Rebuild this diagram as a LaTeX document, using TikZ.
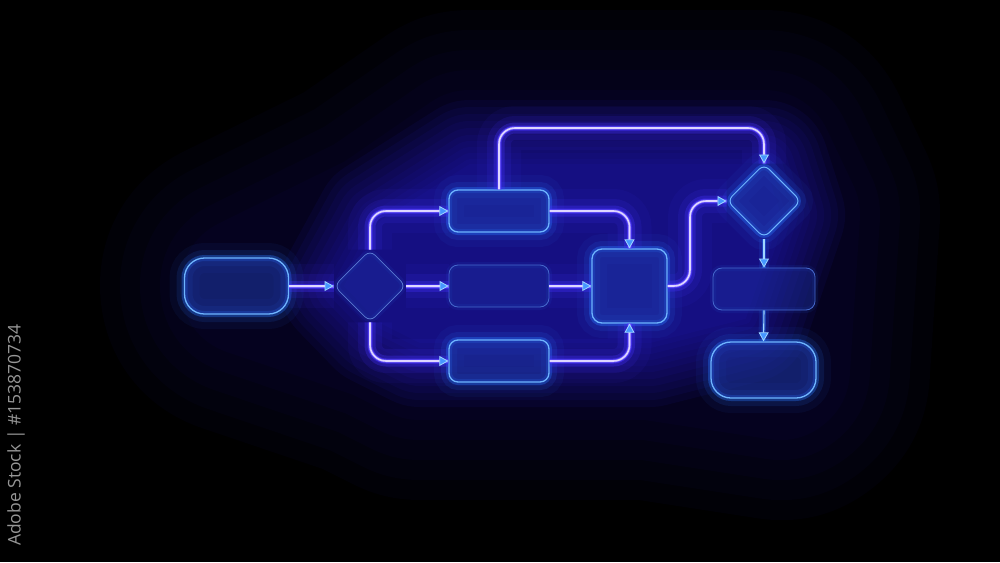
\documentclass[tikz,border=0pt]{standalone}
\usepackage{fontspec}
\setsansfont{Open Sans}
\usetikzlibrary{arrows.meta,shapes.geometric}
\definecolor{haze}{RGB}{40,30,205}
\definecolor{wirecore}{RGB}{222,214,255}
\definecolor{wiremid}{RGB}{120,100,255}
\definecolor{wireglow}{RGB}{70,50,255}
\definecolor{boxline}{RGB}{110,180,255}
\definecolor{boxglow}{RGB}{40,120,255}
\definecolor{boxfill}{RGB}{30,55,170}
\definecolor{dimline}{RGB}{70,105,205}
\definecolor{arrowfill}{RGB}{70,150,255}
\definecolor{arrowline}{RGB}{160,215,255}
\definecolor{idgray}{RGB}{150,150,150}
\begin{document}
\begin{tikzpicture}[x=1pt,y=-1pt,
  boxbase/.style={inner sep=0pt, fill=boxfill, fill opacity=0.55},
  brightbox/.style={boxbase, draw=boxline, line width=1.3pt,
    preaction={draw=boxglow, line width=30pt, draw opacity=0.06},
    preaction={draw=boxglow, line width=16pt, draw opacity=0.12},
    preaction={draw=boxglow, line width=6pt, draw opacity=0.35}},
  dimbox/.style={boxbase, fill opacity=0.35, draw=dimline, line width=0.8pt,
    preaction={draw=boxglow, line width=6pt, draw opacity=0.08}},
  pill/.style={brightbox, rounded corners=20pt, minimum width=104pt, minimum height=56pt},
  rbox/.style={rounded corners=9pt, minimum width=100pt, minimum height=42pt},
  gate/.style={diamond, aspect=1, rounded corners=7pt, minimum width=#1, minimum height=#1},
  tip/.style={-{Triangle[length=9pt,width=10pt,fill=arrowfill,color=arrowline,line width=0.8pt]}},
  wire/.style={tip, draw=wirecore, line width=1.6pt, rounded corners=16pt,
    preaction={-, draw=wireglow, line width=44pt, draw opacity=0.06},
    preaction={-, draw=wireglow, line width=24pt, draw opacity=0.12},
    preaction={-, draw=wireglow, line width=11pt, draw opacity=0.3},
    preaction={-, draw=wireglow, line width=5pt, draw opacity=0.6},
    preaction={-, draw=wiremid, line width=3pt, draw opacity=0.9}},
  thinwire/.style={tip, draw=arrowline, line width=1.1pt,
    preaction={-, draw=boxglow, line width=10pt, draw opacity=0.12},
    preaction={-, draw=boxglow, line width=4pt, draw opacity=0.4}},
  hazelayer/.style={draw=haze, fill=haze, line join=round, line width=#1}
]
\fill[black] (0,0) rectangle (1000,562);
\useasboundingbox (0,0) rectangle (1000,562);

% faint wide haze
\foreach \w in {300,260,220,180,140}{
  \begin{scope}[transparency group, opacity=0.035]
  \path[hazelayer=\w pt] (250,286) -- (380,222) -- (470,160) -- (764,160)
    -- (790,215) -- (780,370) -- (650,350) -- (420,350)
    -- (380,330) -- cycle;
  \end{scope}
}
% main haze around the chart
\foreach \w in {130,116,102,88,74,60,48,36,24,12,2}{
  \begin{scope}[transparency group, opacity=0.08]
  \path[hazelayer=\w pt] (345,286) -- (380,222) -- (470,165) -- (764,165)
    -- (780,215) -- (745,318) -- (650,342) -- (420,342)
    -- (380,322) -- cycle;
  \end{scope}
}

% nodes
\node[pill] (start) at (236.5,286) {};
\node[dimbox, gate=72pt, draw=dimline!90!white] (d1) at (370,286) {};
\node[brightbox, rbox] (b1) at (499,211) {};
\node[dimbox, rbox] (b2) at (499,286) {};
\node[brightbox, rbox] (b3) at (499,361) {};
\node[brightbox, rounded corners=10pt, minimum width=75pt, minimum height=74pt] (s) at (629.5,286) {};
\node[brightbox, gate=74pt, line width=1pt] (d2) at (764,201) {};
\node[dimbox, rbox, minimum width=102pt] (b4) at (764,289) {};
\node[pill, minimum width=105pt] (b5) at (763.5,370) {};

\coordinate (k1) at (690,286);
\coordinate (k2) at (499,128);

% connectors
\draw[wire] (start.east) -- (d1.west);
\draw[wire] (d1.north) |- (b1.west);
\draw[wire] (d1.east) -- (b2.west);
\draw[wire] (d1.south) |- (b3.west);
\draw[wire] (b1.east) -| (s.north);
\draw[wire] (b2.east) -- (s.west);
\draw[wire] (b3.east) -| (s.south);
\draw[wire] (s.east) -- (k1) |- (d2.west);
\draw[wire] (b1.north) -- (k2) -| (d2.north);
\draw[thinwire] (d2.south) -- (b4.north);
\draw[thinwire] (b4.south) -- (b5.north);

% stock id
\node[rotate=90, anchor=west, inner sep=0pt, text=idgray, font=\sffamily\fontsize{17.5}{18}\selectfont] (stockid) at (16,546) {Adobe Stock | \#153870734};
\end{tikzpicture}
\end{document}
